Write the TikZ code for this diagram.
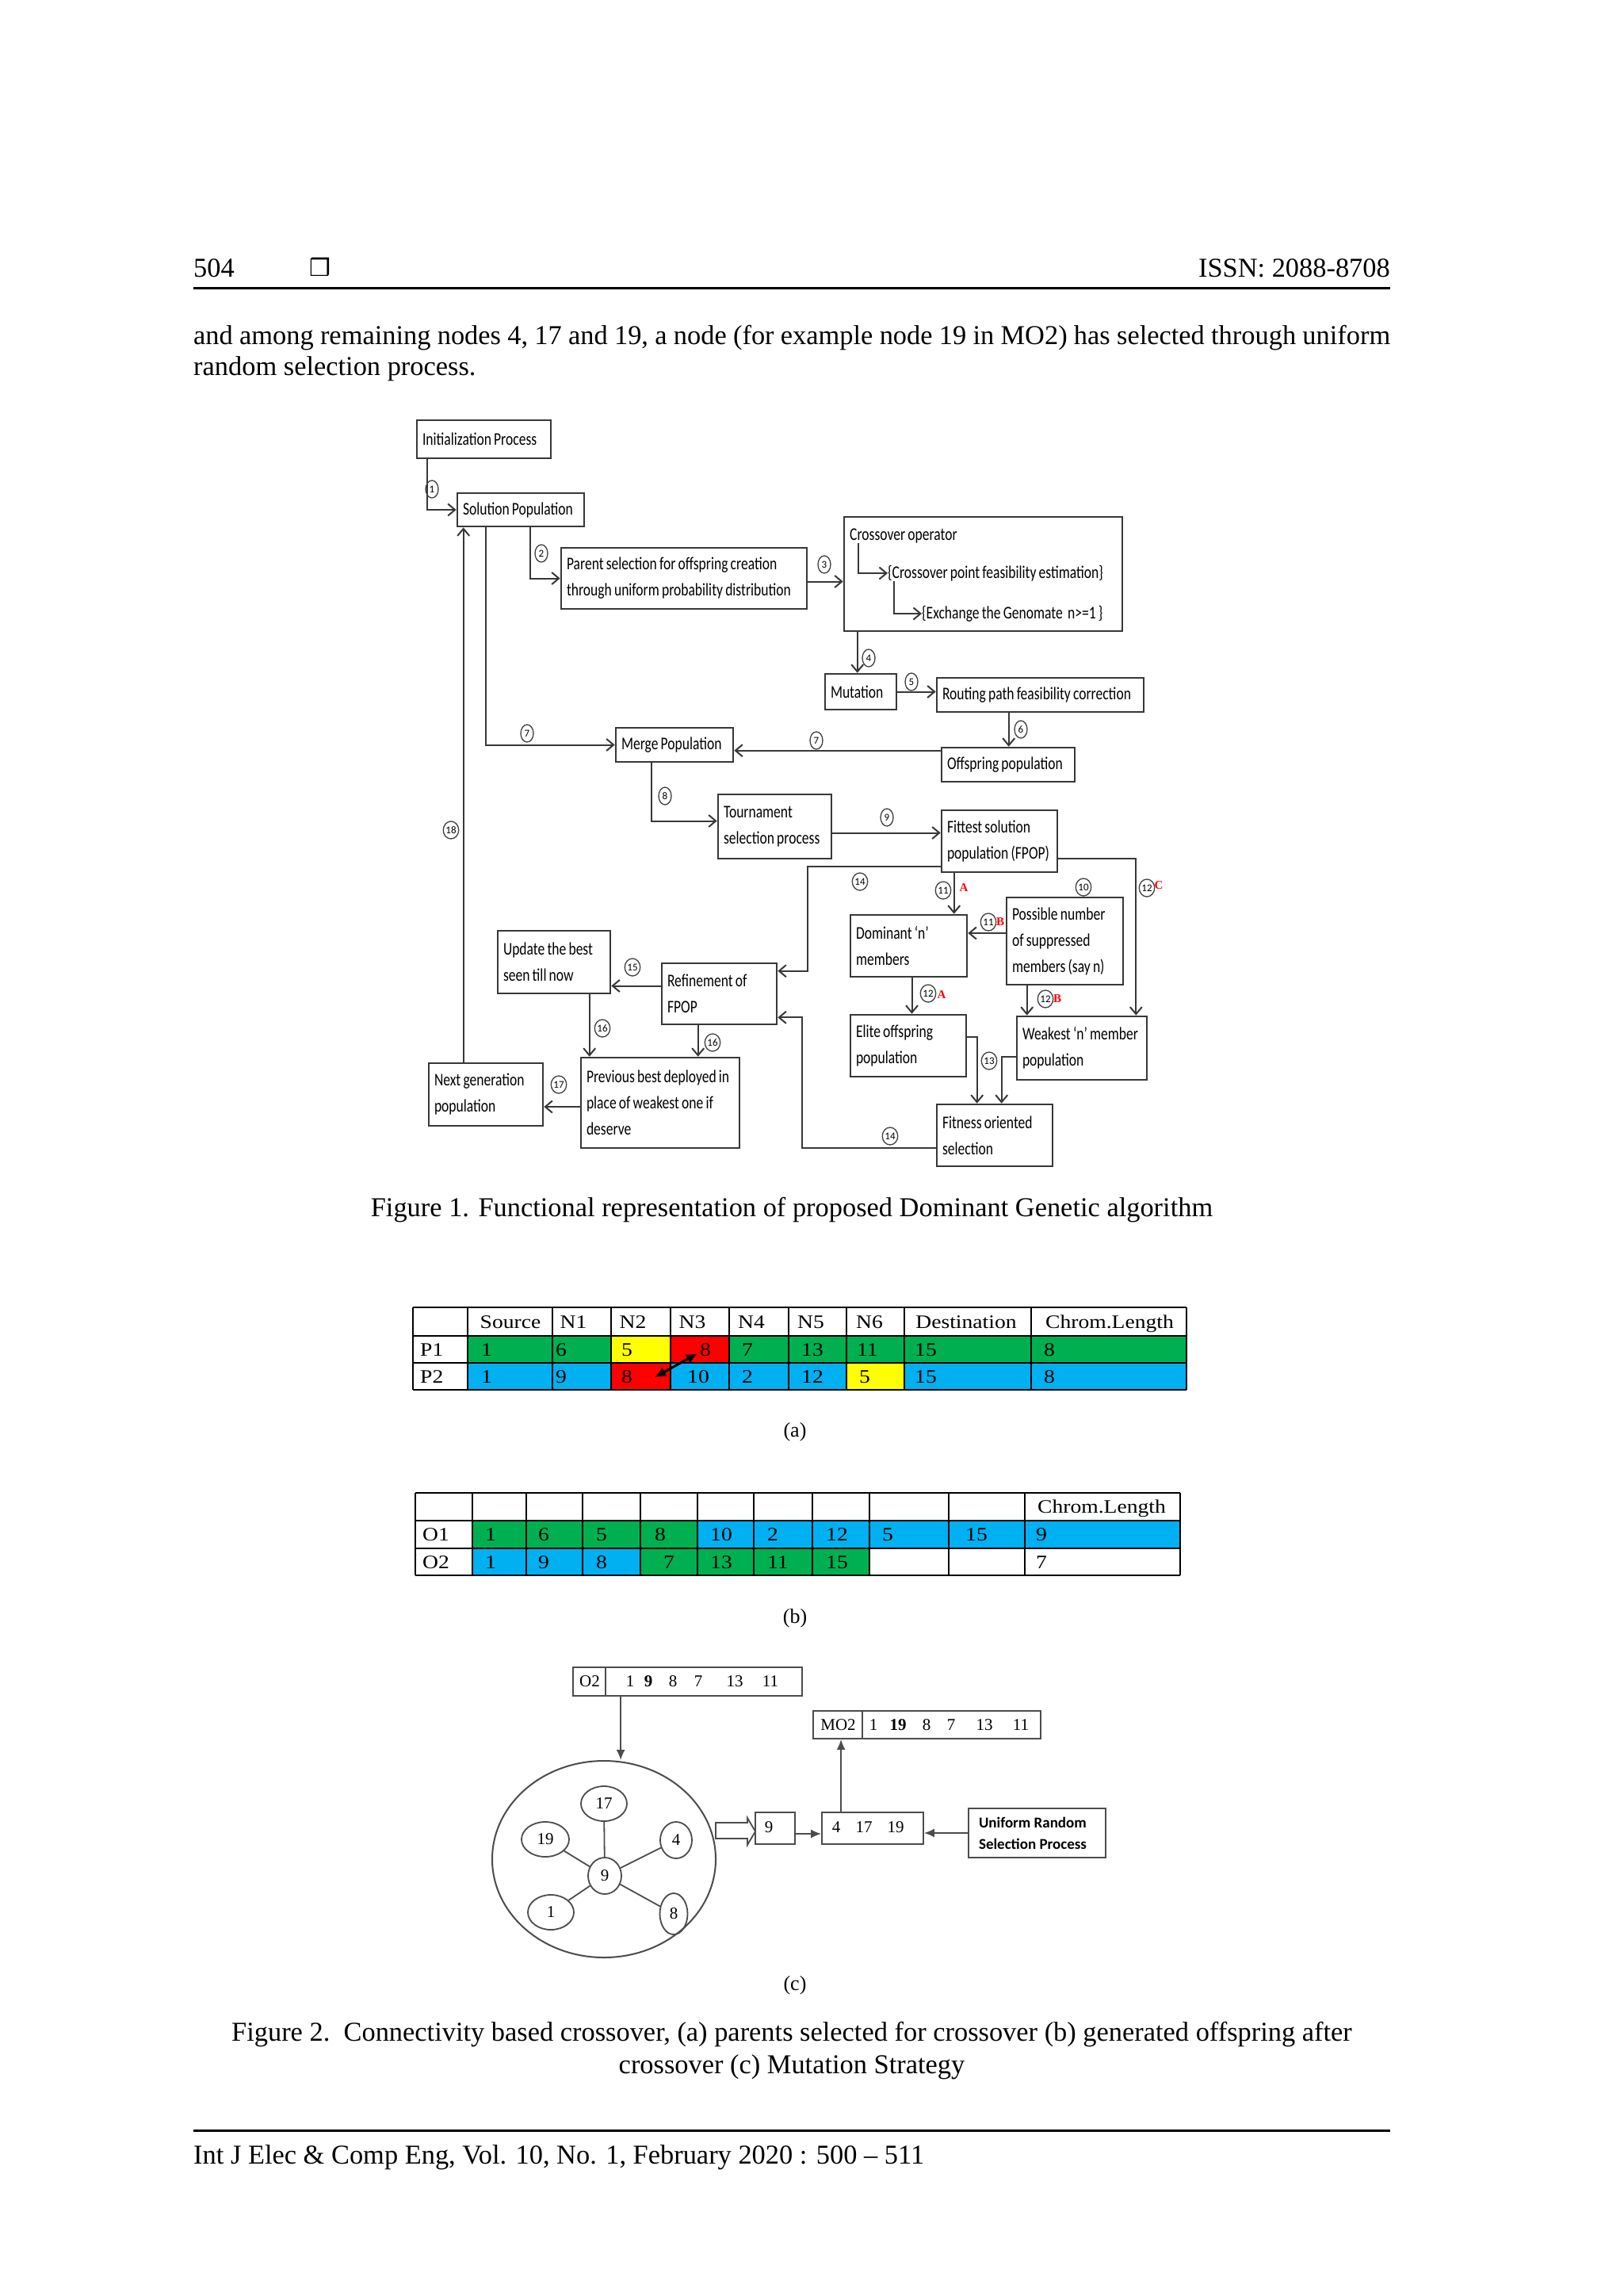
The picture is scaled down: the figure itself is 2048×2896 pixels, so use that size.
\documentclass[tikz,border=0pt]{standalone}
\usepackage{fontspec}
\setmainfont{Liberation Serif}
\newfontfamily\flowf[FakeStretch=0.78,WordSpace=0.8]{Carlito}
\newfontfamily\calib{Carlito}
\newfontfamily\tabf[FakeStretch=1.15,WordSpace=1.1]{Liberation Serif}
\newfontfamily\symf{DejaVu Sans}
\usetikzlibrary{arrows.meta,calc,shapes.geometric}
\definecolor{tgreen}{RGB}{0,176,80}
\definecolor{tblue}{RGB}{0,176,240}
\definecolor{tyellow}{RGB}{255,255,0}
\definecolor{tred}{RGB}{255,0,0}
\newcommand\fb[5]{\node[fbox, minimum width=#3pt, minimum height=#4pt, text width=\the\numexpr#3-14\relax pt] (#1) at (#2) {#5};}
\begin{document}
\begin{tikzpicture}[x=1pt,y=-1pt,
 fbox/.style={draw=black!78, line width=2.6pt, rectangle, inner sep=0pt, align=flush left, font=\flowf\fontsize{22.5}{33}\selectfont, execute at begin node={\hyphenpenalty=10000\exhyphenpenalty=10000\hbadness=10000\hfuzz=50pt}},
 conn/.style={draw=black!78, line width=2pt},
 arr/.style={conn, -{Straight Barb[length=9pt,width=15pt]}},
 numl/.style={ellipse, draw=black!75, line width=1.3pt, inner sep=0.3pt, minimum width=16pt, minimum height=22pt, font=\calib\fontsize{13}{13}\selectfont},
 redl/.style={text=red, inner sep=0, font=\bfseries\fontsize{15}{15}\selectfont},
 ftxt/.style={inner sep=0, anchor=west, font=\flowf\fontsize{22.5}{33}\selectfont},
 tline/.style={draw=black, line width=1.6pt},
 ttxt/.style={inner sep=0, font=\tabf\fontsize{24}{24}\selectfont},
 cbox/.style={draw=black!70, line width=1.8pt, rectangle, inner sep=0},
 cline/.style={draw=black!70, line width=1.8pt},
 cell/.style={ellipse, draw=black!70, line width=1.8pt, inner sep=0, font=\fontsize{21}{21}\selectfont},
 ctxt/.style={inner sep=0, font=\fontsize{21}{21}\selectfont},
 tri/.style={cline, -{Latex[length=13pt,width=11pt]}},
 ptxt/.style={inner sep=0, font=\fontsize{34.4}{41}\selectfont}
]
\useasboundingbox (0,0) rectangle (2048,2896);
\fill[white] (0,0) rectangle (2048,2896);

% ---------- header ----------
\node[ptxt, anchor=base west] (pg) at (244,349) {504};
\node[inner sep=0, font=\symf\fontsize{30}{30}\selectfont] (sq) at (404,337) {❒};
\node[ptxt, anchor=base east] (issn) at (1754,349) {ISSN: 2088-8708};
\draw[line width=3pt] (244,363) -- (1754,363);
\node[ptxt, anchor=base west] (body1) at (244,434) {\makebox[1510pt][s]{and among remaining nodes 4, 17 and 19, a node (for example node 19 in MO2) has selected through uniform}};
\node[ptxt, anchor=base west] (body2) at (244,473) {random selection process.};

% ---------- flowchart boxes ----------
\fb{init}{610.5,554}{169}{48}{Initialization Process}
\fb{sol}{657,643}{160}{42}{Solution Population}
\fb{par}{863,729.5}{310}{77}{Parent selection for offspring creation\\through uniform probability distribution}
\node[fbox, minimum width=351pt, minimum height=144pt] (cross) at (1240.5,724) {};
\fb{mut}{1086,872.5}{90}{45}{Mutation}
\fb{rout}{1312.5,876.5}{261}{43}{Routing path feasibility correction}
\fb{off}{1272,964.5}{168}{43}{Offspring population}
\fb{merge}{851,939.5}{148}{43}{Merge Population}
\fb{tour}{977.5,1042.5}{143}{81}{Tournament\\selection process}
\fb{fit}{1261,1061}{146}{78}{Fittest solution\\population (FPOP)}
\fb{dom}{1146.5,1193}{147}{78}{Dominant ‘n’\\members}
\fb{poss}{1343.5,1187}{147}{110}{Possible number\\of suppressed\\members (say n)}
\fb{elite}{1146,1319}{146}{78}{Elite offspring\\population}
\fb{weak}{1365,1322}{164}{80}{Weakest ‘n’ member\\population}
\fb{fitsel}{1255,1432}{146}{78}{Fitness oriented\\selection}
\fb{ref}{907.5,1253.5}{145}{77}{Refinement of\\FPOP}
\fb{upd}{699,1213.5}{142}{79}{Update the best\\seen till now}
\fb{prev}{833,1391}{200}{114}{Previous best deployed in\\place of weakest one if\\deserve}
\fb{next}{613,1380.5}{144}{79}{Next generation\\population}

% crossover contents
\node[ftxt] (cop) at (1072,676) {Crossover operator};
\node[ftxt] (cpf) at (1120,723) {\{Crossover point feasibility estimation\}};
\node[ftxt] (exg) at (1163,774) {\{Exchange the Genomate\ \ n>=1 \}};
\draw[arr] ($(cop.south west)+(11,0)$) |- (cpf.west);
\draw[arr] ($(cpf.south west)+(8,0)$) |- (exg.west);

% ---------- flowchart connectors ----------
\coordinate (p1) at ($(init.south west)+(14,0)$);
\draw[arr] (p1) |- (sol.west);
\coordinate (p2) at ($(sol.south west)+(93,0)$);
\draw[arr] (p2) |- (par.west);
\coordinate (p3) at ($(par.east)+(0,4)$);
\draw[arr] (p3) -- (p3 -| cross.west);
\coordinate (p4) at ($(cross.south west)+(18,0)$);
\draw[arr] (p4) -- (p4 |- mut.north);
\draw[arr] (mut.east) -- (mut.east -| rout.west);
\coordinate (p6) at ($(rout.south west)+(92,0)$);
\draw[arr] (p6) -- (p6 |- off.north);
\coordinate (p7) at ($(off.north west)+(0,5)$);
\draw[arr] (p7) -- (p7 -| merge.east);
\coordinate (p7b) at ($(sol.south west)+(37,0)$);
\draw[arr] (p7b) |- (merge.west);
\coordinate (p8) at ($(merge.south west)+(46,0)$);
\draw[arr] (p8) |- ($(tour.west)+(0,-7)$);
\coordinate (p9) at ($(tour.east)+(0,8)$);
\draw[arr] (p9) -- (p9 -| fit.west);
\coordinate (p12c) at ($(fit.east)+(0,22)$);
\draw[arr] (p12c) -| ($(weak.north east)+(-15,0)$);
\coordinate (p14a) at ($(fit.south west)+(0,-8)$);
\coordinate (p14b) at ($(ref.north east)+(38,11)$);
\draw[arr] (p14a) -| (p14b) -- (p14b -| ref.east);
\coordinate (p11a) at ($(fit.south west)+(17,0)$);
\draw[arr] (p11a) -- (p11a |- dom.north);
\coordinate (p11b) at ($(poss.west)+(0,-10)$);
\draw[arr] (p11b) -- (p11b -| dom.east);
\coordinate (p12a) at ($(dom.south)+(4,0)$);
\draw[arr] (p12a) -- (p12a |- elite.north);
\coordinate (p12b) at ($(poss.south west)+(27,0)$);
\draw[arr] (p12b) -- (p12b |- weak.north);
\coordinate (p13a) at ($(elite.east)+(0,-11)$);
\draw[arr] (p13a) -| ($(fitsel.north west)+(52,0)$);
\coordinate (p13b) at ($(weak.west)+(0,11)$);
\draw[arr] (p13b) -| ($(fitsel.north west)+(83,0)$);
\coordinate (p14c) at ($(fitsel.west)+(0,16)$);
\coordinate (p14d) at ($(ref.south east)+(31,-10)$);
\draw[arr] (p14c) -| (p14d) -- (p14d -| ref.east);
\coordinate (p15) at ($(ref.west)+(0,-10)$);
\draw[arr] (p15) -- (p15 -| upd.east);
\coordinate (p16a) at ($(upd.south west)+(117,0)$);
\draw[arr] (p16a) -- (p16a |- prev.north);
\coordinate (p16b) at ($(ref.south west)+(47,0)$);
\draw[arr] (p16b) -- (p16b |- prev.north);
\coordinate (p17) at ($(prev.west)+(0,5)$);
\draw[arr] (p17) -- (p17 -| next.east);
\coordinate (p18) at ($(next.north west)+(45,0)$);
\draw[arr] (p18) -- (p18 |- sol.south);

% ---------- step labels ----------
\node[numl] (n1) at (545,617) {1};
\node[numl] (n2) at (683,698) {2};
\node[numl] (n3) at (1040,712) {3};
\node[numl] (n4) at (1096,830) {4};
\node[numl] (n5) at (1150,860) {5};
\node[numl] (n6) at (1288,920) {6};
\node[numl] (n7a) at (665,925) {7};
\node[numl] (n7b) at (1030,934) {7};
\node[numl] (n8) at (839,1004) {8};
\node[numl] (n9) at (1119,1031) {9};
\node[numl] (n10) at (1367,1119) {10};
\node[numl] (n11a) at (1190,1123) {11};
\node[redl] (la) at (1216,1120) {A};
\node[numl] (n11b) at (1247,1163) {11};
\node[redl] (lb) at (1262,1163) {B};
\node[numl] (n12a) at (1171,1253) {12};
\node[redl] (la2) at (1188,1255) {A};
\node[numl] (n12b) at (1319,1260) {12};
\node[redl] (lb2) at (1334,1260) {B};
\node[numl] (n12c) at (1447,1120) {12};
\node[redl] (lc) at (1462,1117) {C};
\node[numl] (n13) at (1248,1338) {13};
\node[numl] (n14a) at (1085,1112) {14};
\node[numl] (n14b) at (1123,1433) {14};
\node[numl] (n15) at (798,1220) {15};
\node[numl] (n16a) at (760,1297) {16};
\node[numl] (n16b) at (899,1315) {16};
\node[numl] (n17) at (705,1368) {17};
\node[numl] (n18) at (569,1047) {18};

\node[ptxt, anchor=base] (cap1) at (999,1534) {Figure 1. Functional representation of proposed Dominant Genetic algorithm};

% ---------- table (a) ----------
\fill[tgreen] (590,1685) rectangle (1497,1719);
\fill[tyellow] (771,1685) rectangle (846,1719);
\fill[tred] (846,1685) rectangle (920,1719);
\fill[tblue] (590,1719) rectangle (1497,1753);
\fill[tred] (771,1719) rectangle (846,1753);
\fill[tyellow] (1068,1719) rectangle (1141,1753);
\foreach \x in {521,590,697,771,846,920,995,1068,1141,1301,1497} \draw[tline] (\x,1649) -- (\x,1753);
\foreach \y in {1649,1685,1719,1753} \draw[tline] (521,\y) -- (1497,\y);
\node[ttxt, anchor=base] (ha1) at (644,1675) {Source};
\node[ttxt, anchor=base] (ha2) at (723.5,1675) {N1};
\node[ttxt, anchor=base] (ha3) at (798.5,1675) {N2};
\node[ttxt, anchor=base] (ha4) at (873.5,1675) {N3};
\node[ttxt, anchor=base] (ha5) at (948,1675) {N4};
\node[ttxt, anchor=base] (ha6) at (1023,1675) {N5};
\node[ttxt, anchor=base] (ha7) at (1097,1675) {N6};
\node[ttxt, anchor=base] (ha8) at (1219,1675) {Destination};
\node[ttxt, anchor=base] (ha9) at (1400,1675) {Chrom.Length};
\node[ttxt, anchor=base west] (rp1) at (530,1710) {P1};
\node[ttxt, anchor=base west] (rp2) at (530,1744) {P2};
\foreach \x/\t [count=\i] in {607/1,701/6,784/5,883/8,936/7,1011/13,1081/11,1154/15,1317/8}
  \node[ttxt, anchor=base west] (pa\i) at (\x,1710) {\t};
\foreach \x/\t [count=\i] in {607/1,701/9,784/8,867/10,936/2,1011/12,1084/5,1154/15,1317/8}
  \node[ttxt, anchor=base west] (pb\i) at (\x,1744) {\t};
\coordinate (dA) at ($(pb3.east)+(28,1)$);
\coordinate (dB) at ($(pa4.west)+(-3,5)$);
\draw[line width=3pt, {Latex[length=14pt,width=13pt]}-{Latex[length=14pt,width=13pt]}] (dA) -- (dB);
\node[inner sep=0, font=\fontsize{26}{26}\selectfont, anchor=base] (capa) at (1003,1812) {(a)};

% ---------- table (b) ----------
\fill[tgreen] (596,1918) rectangle (880,1953);
\fill[tblue] (880,1918) rectangle (1489,1953);
\fill[tblue] (596,1953) rectangle (808,1987);
\fill[tgreen] (808,1953) rectangle (1097,1987);
\foreach \x in {524,596,664,735,808,880,951,1025,1097,1197,1293,1489} \draw[tline] (\x,1883) -- (\x,1987);
\foreach \y in {1883,1918,1953,1987} \draw[tline] (524,\y) -- (1489,\y);
\node[ttxt, anchor=base] (hb) at (1390,1908) {Chrom.Length};
\node[ttxt, anchor=base west] (ro1) at (533,1943) {O1};
\node[ttxt, anchor=base west] (ro2) at (533,1978) {O2};
\foreach \x/\t [count=\i] in {612/1,679/6,752/5,826/8,896/10,968/2,1042/12,1113/5,1218/15,1307/9}
  \node[ttxt, anchor=base west] (oa\i) at (\x,1943) {\t};
\foreach \x/\t [count=\i] in {612/1,679/9,752/8,837/7,896/13,968/11,1042/15,1307/7}
  \node[ttxt, anchor=base west] (ob\i) at (\x,1978) {\t};
\node[inner sep=0, font=\fontsize{26}{26}\selectfont, anchor=base] (capb) at (1003,2047) {(b)};

% ---------- part (c) ----------
\node[cbox, minimum width=289pt, minimum height=36pt] (o2) at (867.5,2121) {};
\draw[cline] ($(o2.north west)+(42,0)$) -- ($(o2.south west)+(42,0)$);
\node[ctxt] (o2l) at (744,2121) {O2};
\node[ctxt] (o2v1) at (795,2121) {1};
\node[ctxt] (o2v2) at (818,2121) {\textbf{9}};
\node[ctxt] (o2v3) at (849,2121) {8};
\node[ctxt] (o2v4) at (881,2121) {7};
\node[ctxt] (o2v5) at (927,2121) {13};
\node[ctxt] (o2v6) at (972,2121) {11};

\node[ellipse, draw=black!70, line width=2pt, minimum width=282pt, minimum height=248pt, inner sep=0] (cloud) at (762,2345) {};
\node[cell, minimum width=58pt, minimum height=44pt] (c17) at (762,2275) {17};
\node[cell, minimum width=60pt, minimum height=44pt] (c19) at (688,2320) {19};
\node[cell, minimum width=40pt, minimum height=46pt] (c4) at (853,2321) {4};
\node[cell, minimum width=42pt, minimum height=46pt] (c9) at (763,2366) {9};
\node[cell, minimum width=58pt, minimum height=44pt] (c1) at (695,2412) {1};
\node[cell, minimum width=35pt, minimum height=52pt] (c8) at (850,2414) {8};
\draw[cline] (c9) -- (c17);
\draw[cline] (c9) -- (c19);
\draw[cline] (c9) -- (c4);
\draw[cline] (c9) -- (c1);
\draw[cline] (c9) -- (c8);
\coordinate (o2d) at ($(o2.south west)+(61,0)$);
\draw[tri] (o2d) -- (o2d |- cloud.north);

\node[cbox, minimum width=50pt, minimum height=40pt] (b9) at (978,2306) {};
\node[ctxt] (b9t) at (970,2305) {9};
\draw[cline, fill=white] (903,2299) -- (943,2299) -- (943,2293) -- (953,2310) -- (943,2327) -- (943,2319) -- (903,2319) -- cycle;
\node[cbox, minimum width=128pt, minimum height=40pt] (b4) at (1101,2306) {};
\node[ctxt] (b4a) at (1055,2305) {4};
\node[ctxt] (b4b) at (1090,2305) {17};
\node[ctxt] (b4c) at (1130,2305) {19};
\coordinate (b9e) at ($(b9.east)+(0,7)$);
\draw[tri] (b9e) -- (b9e -| b4.west);

\node[cbox, minimum width=287pt, minimum height=35pt] (mo2) at (1169.5,2175.5) {};
\draw[cline] ($(mo2.north west)+(63,0)$) -- ($(mo2.south west)+(63,0)$);
\node[ctxt] (mo2l) at (1057.5,2175.5) {MO2};
\node[ctxt] (m1) at (1102,2175.5) {1};
\node[ctxt] (m2) at (1133,2175.5) {\textbf{19}};
\node[ctxt] (m3) at (1169,2175.5) {8};
\node[ctxt] (m4) at (1200,2175.5) {7};
\node[ctxt] (m5) at (1242,2175.5) {13};
\node[ctxt] (m6) at (1288,2175.5) {11};
\coordinate (b4n) at ($(b4.north west)+(25,0)$);
\draw[tri] (b4n) -- (b4n |- mo2.south);

\node[cbox, minimum width=173pt, minimum height=62pt, text width=147pt, align=flush left, font=\calib\bfseries\fontsize{19}{27}\selectfont] (urs) at (1308.5,2312) {Uniform Random\\Selection Process};
\draw[tri] (urs.west) -- (urs.west -| b4.east);
\node[inner sep=0, font=\fontsize{26}{26}\selectfont, anchor=base] (capc) at (1003,2510) {(c)};

\node[ptxt, anchor=base] (cap2a) at (999,2574) {Figure 2.\ \ Connectivity based crossover, (a) parents selected for crossover (b) generated offspring after};
\node[ptxt, anchor=base] (cap2b) at (999,2615) {crossover (c) Mutation Strategy};

% ---------- footer ----------
\draw[line width=3pt] (244,2687) -- (1754,2687);
\node[ptxt, anchor=base west] (foot) at (244,2729) {Int J Elec \& Comp Eng, Vol. 10, No. 1, February 2020 : 500 – 511};
\end{tikzpicture}
\end{document}
